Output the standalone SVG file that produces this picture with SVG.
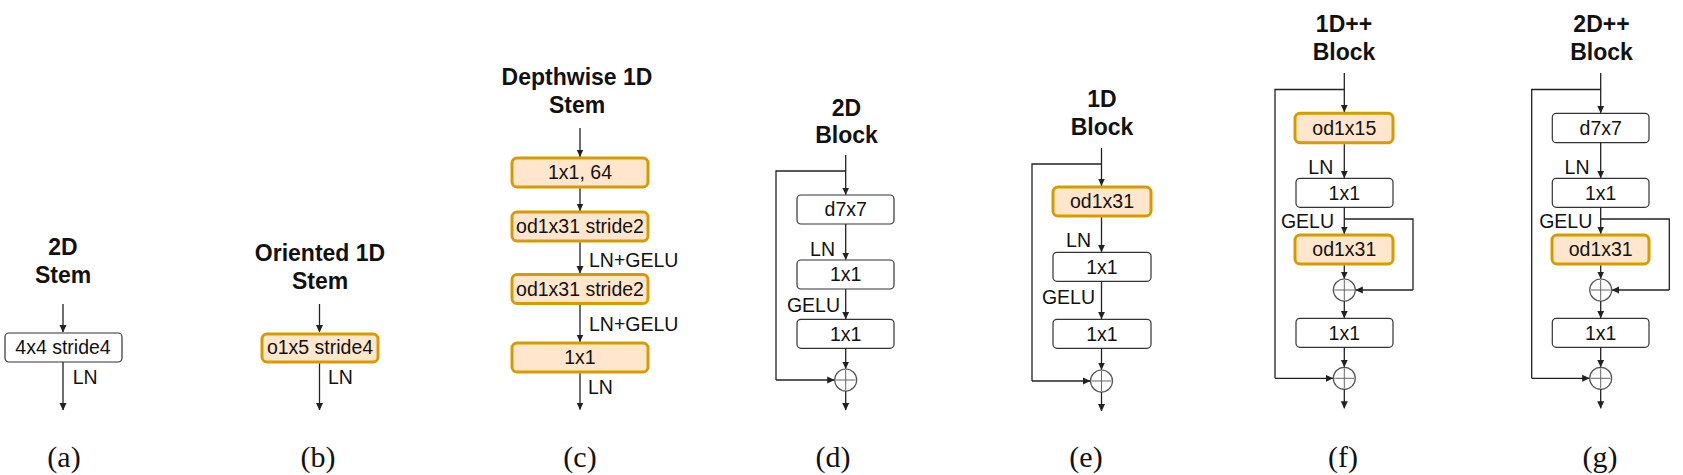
<svg xmlns="http://www.w3.org/2000/svg" width="1683" height="475" viewBox="0 0 1683 475">
<defs>
<marker id="ah" markerWidth="8" markerHeight="8" refX="7" refY="4" orient="auto" markerUnits="userSpaceOnUse">
<path d="M0,0.5 L7.5,4 L0,7.5 Z" fill="#222"/>
</marker>
</defs>
<style>
.title{font-family:"Liberation Sans",Arial,sans-serif;font-weight:bold;font-size:23px;text-anchor:middle;fill:#111}
.t{font-family:"Liberation Sans",Arial,sans-serif;font-size:19.5px;fill:#111}
.c{text-anchor:middle}
.e{text-anchor:end}
.cap{font-family:"Liberation Serif","Times New Roman",serif;font-size:30px;text-anchor:middle;fill:#111}
.box{fill:#fff;stroke:#333;stroke-width:1.2}
.obox{fill:#ffe6cc;stroke:#d79b00;stroke-width:3}
.ln{fill:none;stroke:#222;stroke-width:1.3}
.ar{fill:none;stroke:#222;stroke-width:1.3;marker-end:url(#ah)}
.sum circle{fill:#fff;stroke:#555;stroke-width:1.2}
.sum path{stroke:#666;stroke-width:1;fill:none}
</style>

<!-- (a) -->
<g id="a-title"><text class="title" x="63" y="255">2D</text><text class="title" x="63" y="283">Stem</text></g>
<g id="a-stem"><rect class="box" x="5" y="333" width="117" height="29" rx="4"/><text class="t c" x="63" y="354">4x4 stride4</text></g>
<g id="a-cap"><text class="cap" x="64" y="467">(a)</text></g>

<!-- (b) -->
<g id="b-title"><text class="title" x="320" y="261">Oriented 1D</text><text class="title" x="320" y="289">Stem</text></g>
<g id="b-stem"><rect class="obox" x="262" y="334" width="116" height="28" rx="5"/><text class="t c" x="320" y="354">o1x5 stride4</text></g>
<g id="b-cap"><text class="cap" x="318" y="467">(b)</text></g>

<!-- (c) -->
<g id="c-title"><text class="title" x="577" y="85">Depthwise 1D</text><text class="title" x="577" y="113">Stem</text></g>
<g id="c-b1"><rect class="obox" x="512" y="158" width="136" height="29" rx="5"/><text class="t c" x="580" y="179">1x1, 64</text></g>
<g id="c-b2"><rect class="obox" x="512" y="212" width="136" height="29" rx="5"/><text class="t c" x="580" y="233">od1x31 stride2</text></g>
<g id="c-b3"><rect class="obox" x="512" y="274.5" width="136" height="29" rx="5"/><text class="t c" x="580" y="295.5">od1x31 stride2</text></g>
<g id="c-b4"><rect class="obox" x="512" y="343" width="136" height="29" rx="5"/><text class="t c" x="580" y="364">1x1</text></g>
<g id="c-cap"><text class="cap" x="580" y="467">(c)</text></g>

<!-- (d) -->
<g id="d-title"><text class="title" x="846.5" y="116">2D</text><text class="title" x="846.5" y="143">Block</text></g>
<g id="d-b1"><rect class="box" x="797" y="195" width="97" height="29" rx="4"/><text class="t c" x="845.7" y="216">d7x7</text></g>
<g id="d-b2"><rect class="box" x="797" y="260" width="97" height="29" rx="4"/><text class="t c" x="845.7" y="281">1x1</text></g>
<g id="d-b3"><rect class="box" x="797" y="319.3" width="97" height="29" rx="4"/><text class="t c" x="845.7" y="340.5">1x1</text></g>
<g id="d-sum" class="sum"><circle cx="845.7" cy="380" r="11"/><path d="M835.7,380 H855.7 M845.7,370 V390"/></g>
<g id="d-cap"><text class="cap" x="833" y="467">(d)</text></g>

<!-- (e) -->
<g id="e-title"><text class="title" x="1102" y="107">1D</text><text class="title" x="1102" y="135">Block</text></g>
<g id="e-b1"><rect class="obox" x="1053" y="187" width="98" height="29" rx="5"/><text class="t c" x="1102" y="208">od1x31</text></g>
<g id="e-b2"><rect class="box" x="1053" y="252.3" width="98" height="29" rx="4"/><text class="t c" x="1102" y="273.5">1x1</text></g>
<g id="e-b3"><rect class="box" x="1053" y="319.3" width="98" height="29" rx="4"/><text class="t c" x="1102" y="340.5">1x1</text></g>
<g id="e-sum" class="sum"><circle cx="1101.5" cy="381" r="11"/><path d="M1091.5,381 H1111.5 M1101.5,371 V391"/></g>
<g id="e-cap"><text class="cap" x="1086" y="467">(e)</text></g>

<!-- (f) -->
<g id="f-title"><text class="title" x="1344" y="32">1D++</text><text class="title" x="1344" y="60">Block</text></g>
<g id="f-b1"><rect class="obox" x="1295" y="113.3" width="98" height="29.4" rx="5"/><text class="t c" x="1344.3" y="134.5">od1x15</text></g>
<g id="f-b2"><rect class="box" x="1296" y="178.3" width="97" height="29" rx="4"/><text class="t c" x="1344.3" y="199.5">1x1</text></g>
<g id="f-b3"><rect class="obox" x="1295" y="235" width="98" height="29" rx="5"/><text class="t c" x="1344.3" y="256">od1x31</text></g>
<g id="f-sum1" class="sum"><circle cx="1344.3" cy="290" r="11"/><path d="M1334.3,290 H1354.3 M1344.3,280 V300"/></g>
<g id="f-b4"><rect class="box" x="1296" y="318.3" width="97" height="29" rx="4"/><text class="t c" x="1344.3" y="339.5">1x1</text></g>
<g id="f-sum2" class="sum"><circle cx="1344.3" cy="378.3" r="11"/><path d="M1334.3,378.3 H1354.3 M1344.3,368.3 V388.3"/></g>
<g id="f-cap"><text class="cap" x="1343" y="467">(f)</text></g>

<!-- (g) -->
<g id="g-title"><text class="title" x="1601.5" y="32">2D++</text><text class="title" x="1601.5" y="60">Block</text></g>
<g id="g-b1"><rect class="box" x="1552.3" y="113.3" width="96.7" height="29.4" rx="4"/><text class="t c" x="1600.7" y="134.5">d7x7</text></g>
<g id="g-b2"><rect class="box" x="1552.3" y="178.3" width="96.7" height="29" rx="4"/><text class="t c" x="1600.7" y="199.5">1x1</text></g>
<g id="g-b3"><rect class="obox" x="1552" y="235" width="97" height="29" rx="5"/><text class="t c" x="1600.7" y="256">od1x31</text></g>
<g id="g-sum1" class="sum"><circle cx="1600.7" cy="290" r="11"/><path d="M1590.7,290 H1610.7 M1600.7,280 V300"/></g>
<g id="g-b4"><rect class="box" x="1552.3" y="318.3" width="96.7" height="29" rx="4"/><text class="t c" x="1600.7" y="339.5">1x1</text></g>
<g id="g-sum2" class="sum"><circle cx="1600.7" cy="378.3" r="11"/><path d="M1590.7,378.3 H1610.7 M1600.7,368.3 V388.3"/></g>
<g id="g-cap"><text class="cap" x="1600" y="467">(g)</text></g>

<!-- connectors -->
<g id="connectors">
<!-- a -->
<path class="ar" d="M63,304 V332"/>
<path class="ar" d="M63,362 V410"/>
<text class="t" x="72.7" y="384">LN</text>
<!-- b -->
<path class="ar" d="M319.5,304 V332"/>
<path class="ar" d="M319.5,363.5 V410"/>
<text class="t" x="328" y="384">LN</text>
<!-- c -->
<path class="ar" d="M580,128 V156.5"/>
<path class="ar" d="M580,188.5 V210.5"/>
<path class="ar" d="M580,242.5 V273"/>
<text class="t" x="589" y="267">LN+GELU</text>
<path class="ar" d="M580,305 V341.5"/>
<text class="t" x="589" y="331">LN+GELU</text>
<path class="ar" d="M580,373.5 V409.5"/>
<text class="t" x="588" y="394">LN</text>
<!-- d -->
<path class="ar" d="M845.7,155 V194.5"/>
<path class="ln" d="M845.7,171 H776 V380"/>
<path class="ar" d="M776,380 H834.2"/>
<path class="ar" d="M845.7,224 V259.5"/>
<text class="t e" x="835" y="256">LN</text>
<path class="ar" d="M845.7,289 V318.8"/>
<text class="t e" x="840" y="311.7">GELU</text>
<path class="ar" d="M845.7,348.3 V368.5"/>
<path class="ar" d="M845.7,391 V410"/>
<!-- e -->
<path class="ar" d="M1101.5,148 V185.5"/>
<path class="ln" d="M1101.5,164 H1032 V381"/>
<path class="ar" d="M1032,381 H1090"/>
<path class="ar" d="M1101.5,217.5 V251.8"/>
<text class="t e" x="1091" y="246.7">LN</text>
<path class="ar" d="M1101.5,281.3 V318.8"/>
<text class="t e" x="1095" y="304">GELU</text>
<path class="ar" d="M1101.5,348.3 V369.5"/>
<path class="ar" d="M1101.5,392 V411"/>
<!-- f -->
<path class="ar" d="M1344.3,73 V111.8"/>
<path class="ln" d="M1344.3,89.5 H1275 V378.3"/>
<path class="ar" d="M1275,378.3 H1332.8"/>
<path class="ar" d="M1344.3,144.2 V177.8"/>
<text class="t e" x="1333.3" y="174">LN</text>
<path class="ar" d="M1344.3,207.3 V233.5"/>
<text class="t e" x="1334" y="228.3">GELU</text>
<path class="ln" d="M1344.3,219 H1413 V290"/>
<path class="ar" d="M1413,290 H1355.8"/>
<path class="ar" d="M1344.3,265.5 V278.5"/>
<path class="ar" d="M1344.3,301 V317.8"/>
<path class="ar" d="M1344.3,347.3 V366.8"/>
<path class="ar" d="M1344.3,389.3 V408.3"/>
<!-- g -->
<path class="ar" d="M1600.7,73 V112.8"/>
<path class="ln" d="M1600.7,89.5 H1531.7 V378.3"/>
<path class="ar" d="M1531.7,378.3 H1589.2"/>
<path class="ar" d="M1600.7,142.7 V177.8"/>
<text class="t e" x="1589.5" y="174">LN</text>
<path class="ar" d="M1600.7,207.3 V233.5"/>
<text class="t e" x="1592.3" y="228.3">GELU</text>
<path class="ln" d="M1600.7,219 H1669.3 V290"/>
<path class="ar" d="M1669.3,290 H1612.2"/>
<path class="ar" d="M1600.7,265.5 V278.5"/>
<path class="ar" d="M1600.7,301 V317.8"/>
<path class="ar" d="M1600.7,347.3 V366.8"/>
<path class="ar" d="M1600.7,389.3 V408.3"/>
</g>
</svg>
